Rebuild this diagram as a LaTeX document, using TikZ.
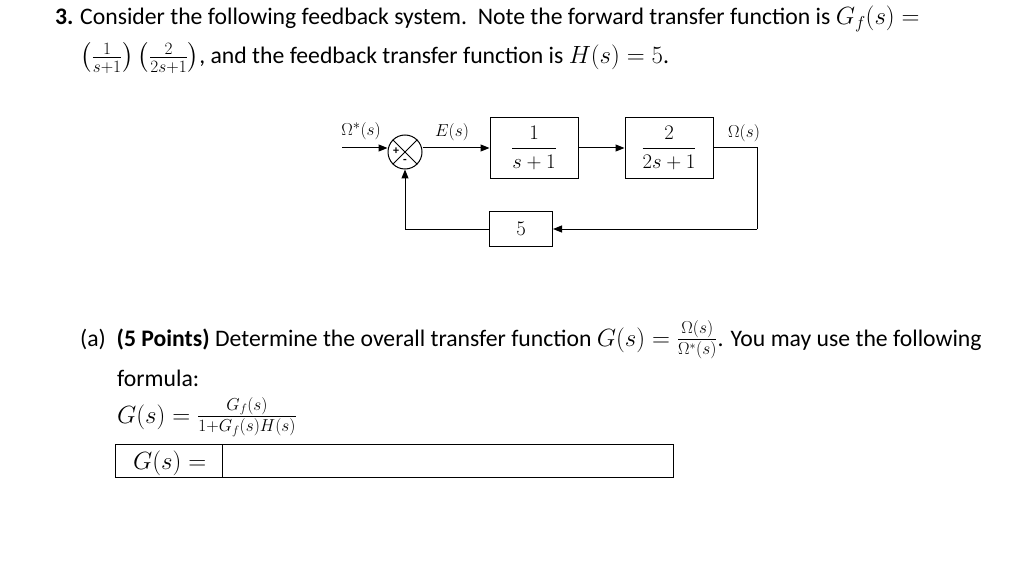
\documentclass[tikz,border=0pt]{standalone}
\usepackage{amsmath}
\usepackage{fontspec}
\setmainfont{Carlito}
\usetikzlibrary{arrows.meta}
\begin{document}
\begin{tikzpicture}[x=1pt,y=-1pt,
  txt/.style={anchor=base west,inner sep=0pt,font=\fontsize{23.7}{28}\selectfont},
  blk/.style={draw,line width=1pt,minimum width=88pt,minimum height=61pt,inner sep=0pt,font=\fontsize{20}{22}\selectfont},
  lbl/.style={inner sep=0pt,font=\fontsize{19}{22}\selectfont},
  sig/.style={line width=1pt,-{Triangle[length=9pt,width=7pt]}},
  ln/.style={line width=1pt}]
\useasboundingbox (0,0) rectangle (1011,564);
% header
\node[txt,font=\bfseries\fontsize{23.7}{28}\selectfont] (n3) at (55,25) {3.};
\node[txt] (l1) at (80,25) {Consider the following feedback system.\ \ Note the forward transfer function is $G_f(s)=$};
\node[txt] (l2) at (80,64) {$\left(\frac{1}{s+1}\right)\left(\frac{2}{2s+1}\right)$, and the feedback transfer function is $H(s)=5$.};
% diagram
\node[draw,circle,line width=1pt,minimum size=34pt,inner sep=0pt] (sum) at (405,152) {};
\draw[line width=1pt] (sum.north west) -- (sum.south east) (sum.north east) -- (sum.south west);
\node[lbl,font=\fontsize{12}{12}\selectfont\bfseries] (plus) at (396,151) {+};
\node[lbl,font=\fontsize{12}{12}\selectfont\bfseries] (minus) at (405,161) {-};
\node[blk] (b1) at (534,148) {$\dfrac{1}{s+1}$};
\node[blk] (b2) at (669,148) {$\dfrac{2}{2s+1}$};
\node[blk,minimum width=63pt,minimum height=35pt,font=\fontsize{22}{24}\selectfont] (b3) at (521,229) {$5$};
\coordinate (in) at (342,148);
\coordinate (outc) at (757,148);
\coordinate (dn) at (757,229);
\coordinate (fb) at (405,229);
\draw[sig] (in) -- (sum.west |- in);
\draw[sig] (sum.east |- in) -- (b1.west);
\draw[sig] (b1.east) -- (b2.west);
\draw[ln] (b2.east) -- (outc) -- (dn);
\draw[sig] (dn) -- (b3.east);
\draw[sig] (b3.west) -- (fb) -- (sum.south);
\node[lbl] (om1) at (361,131) {$\Omega^*(s)$};
\node[lbl] (es) at (452,132) {$E(s)$};
\node[lbl] (om2) at (744,133) {$\Omega(s)$};
% part a
\node[txt] (pa) at (80,346) {(a)\ \ \textbf{(5 Points)} Determine the overall transfer function $G(s)=\frac{\Omega(s)}{\Omega^*(s)}$. You may use the following};
\node[txt] (fm) at (117,386) {formula:};
\node[txt] (gf) at (117,423) {$G(s)=\frac{G_f(s)}{1+G_f(s)H(s)}$};
\node[draw,line width=0.8pt,minimum width=558pt,minimum height=33pt,inner sep=0pt] (ans) at (394,461) {};
\draw[line width=0.8pt] (222,445) -- (222,478);
\node[txt] (ga) at (133,469) {$G(s)=$};
\end{tikzpicture}
\end{document}
